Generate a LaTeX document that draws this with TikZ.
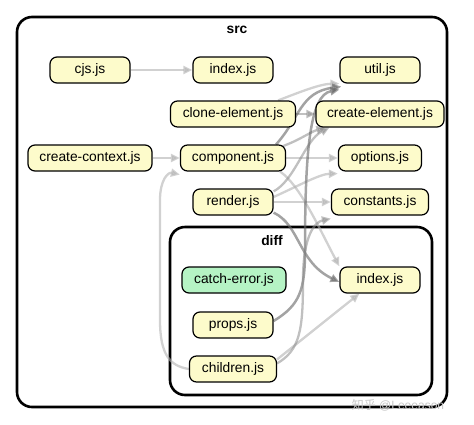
\documentclass[tikz,border=0pt]{standalone}
\usepackage{fontspec}
\setmainfont{Liberation Sans}
\newfontfamily\cjkfont{Noto Sans CJK SC}
\usetikzlibrary{arrows.meta,backgrounds}
\definecolor{nodeyellow}{HTML}{FDFBCB}
\definecolor{nodegreen}{HTML}{B5F3C4}
\tikzset{
  x=1pt, y=-1pt,
  file/.style={draw=black, line width=1.2pt, rounded corners=7pt, fill=nodeyellow,
    minimum height=26pt, inner sep=0pt, font=\fontsize{13.8}{15}\selectfont},
  greenfile/.style={file, fill=nodegreen},
  cluster/.style={draw=black, line width=2.6pt, rounded corners=15pt},
  clabel/.style={font=\fontsize{13.8}{15}\selectfont\bfseries},
  dep/.style={draw=black!45, opacity=0.55, line width=2.3pt,
    -{Triangle[length=9pt,width=8pt]}},
  darkdep/.style={draw=black!60, opacity=0.6, line width=2.5pt,
    -{Triangle[length=9pt,width=8pt]}},
  lightdep/.style={draw=black!30, opacity=0.6, line width=2.3pt,
    -{Triangle[length=9pt,width=8pt]}},
}
\begin{document}
\begin{tikzpicture}
\useasboundingbox (0,0) rectangle (474,424);
% nodes
\node[file, minimum width=80pt]  (cjs)    at (90,70)  {cjs.js};
\node[file, minimum width=80pt]  (idx)    at (233,70) {index.js};
\node[file, minimum width=80pt]  (util)   at (380,70) {util.js};
\node[file, minimum width=125pt] (clone)  at (233,114) {clone-element.js};
\node[file, minimum width=128pt] (create) at (380,114) {create-element.js};
\node[file, minimum width=124pt] (ctx)    at (90,158) {create-context.js};
\node[file, minimum width=105pt] (comp)   at (233,158) {component.js};
\node[file, minimum width=83pt]  (opts)   at (380,158) {options.js};
\node[file, minimum width=80pt]  (render) at (233,202) {render.js};
\node[file, minimum width=97pt]  (consts) at (380,202) {constants.js};
\node[greenfile, minimum width=104pt] (catch) at (234,280) {catch-error.js};
\node[file, minimum width=80pt]  (dindex) at (380,280) {index.js};
\node[file, minimum width=80pt]  (props)  at (233,325) {props.js};
\node[file, minimum width=87pt]  (child)  at (233,369) {children.js};
% cluster labels
\node[clabel] (srclabel)  at (237,30)  {src};
\node[clabel] (difflabel) at (272,241) {diff};
\node[text=black!22, font=\fontsize{12}{14}\selectfont] (wm) at (398,405) {{\cjkfont 知乎} @Leeeason};
\begin{scope}[on background layer]
  \draw[cluster] (17,17) rectangle (447,407);
  \draw[cluster] (170,227) rectangle (432,395);
  % edges
  \draw[lightdep] (cjs) -- (idx);
  \draw[lightdep] (ctx) -- (comp);
  \draw[dep] (clone) -- (create);
  \draw[lightdep] (clone.north east) ++(-18,0) .. controls (300,92) and (320,84) .. (util.south west);
  \draw[dep] (comp.north east) ++(-4,2) .. controls (300,140) and (310,132) .. ([xshift=10pt]create.south west);
  \draw[darkdep] (comp.north east) ++(-10,0) .. controls (300,118) and (300,92) .. ([xshift=2pt,yshift=-3pt]util.south west);
  \draw[lightdep] (comp) -- (opts);
  \draw[lightdep] (comp.south east) ++(-6,0) .. controls (300,185) and (320,230) .. (dindex.north west);
  \draw[dep] (render.north east) ++(0,3) .. controls (295,180) and (305,140) .. ([xshift=14pt]create.south west);
  \draw[lightdep] (render.east) ++(0,-5) .. controls (300,185) and (320,174) .. ([yshift=-2pt]opts.south west);
  \draw[lightdep] (render) -- (consts);
  \draw[darkdep] (render.south east) ++(0,-3) .. controls (300,225) and (298,262) .. ([yshift=-2pt]dindex.west);
  \draw[darkdep] (props.east) ++(0,-4) .. controls (300,305) and (305,290) .. (305,250)
      .. controls (305,150) and (310,95) .. ([yshift=-6pt]util.south west);
  \draw[lightdep] (child.west) .. controls (170,366) and (160,355) .. (160,320)
      -- (160,200) .. controls (160,180) and (168,172) .. ([yshift=-3pt]comp.south west);
  \draw[lightdep] (child.north east) ++(0,4) -- ([xshift=20pt]dindex.south west);
  \draw[dep] (child.north east) ++(0,8) .. controls (300,350) and (303,330) .. (303,280)
      .. controls (303,235) and (315,222) .. ([yshift=-3pt]consts.south west);
\end{scope}
\end{tikzpicture}
\end{document}
